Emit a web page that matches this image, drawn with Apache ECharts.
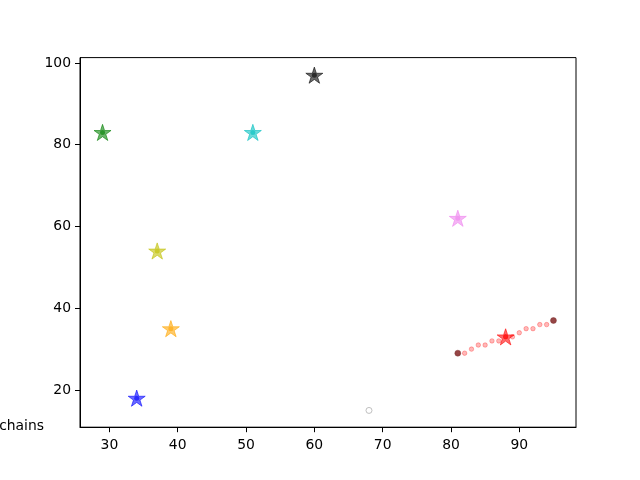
<!DOCTYPE html>
<html>
<head>
<meta charset="utf-8">
<script src="https://cdn.jsdelivr.net/npm/echarts@6/dist/echarts.min.js"></script>
<style>html,body{margin:0;padding:0;background:#fff}#c{width:640px;height:480px}</style>
</head>
<body>
<div id="c"></div>
<script>
// Star markers
var starX = [29, 51, 60, 37, 39, 34, 81, 88];
var starY = [83, 83, 97, 54, 35, 18, 62, 33];
var starColors = ['#008000', '#00bfbf', '#000000', '#bfbf00', '#ffa500', '#0000ff', '#ee82ee', '#ff0000'];
// Chain of small points
var chainX = [81, 82, 83, 84, 85, 86, 87, 88, 89, 90, 91, 92, 93, 94, 95];
var chainY = [29, 29, 30, 31, 31, 32, 32, 33, 33, 34, 35, 35, 36, 36, 37];
// Chain endpoints
var endX = [81, 95];
var endY = [29, 37];
// Lone hollow point
var loneX = [68];
var loneY = [15];
// Ticks
var xTicks = [30, 40, 50, 60, 70, 80, 90];
var yTicks = [20, 40, 60, 80, 100];
var label = 'chains';

var STAR = 'path://M0,-1L0.2245,-0.309L0.951,-0.309L0.363,0.118L0.588,0.809L0,0.382L-0.588,0.809L-0.363,0.118L-0.951,-0.309L-0.2245,-0.309Z';
var FONT = 'DejaVu Sans';

function zip(xs, ys) { return xs.map(function (x, i) { return [x, ys[i]]; }); }

var series = [];
series.push({
  type: 'scatter', symbol: 'circle', symbolSize: 4.5,
  data: zip(chainX, chainY),
  itemStyle: { color: '#ff0000', borderColor: '#ff0000', borderWidth: 1, opacity: 0.28 },
  silent: true, z: 2
});
series.push({
  type: 'scatter', symbol: 'circle', symbolSize: 6,
  data: zip(endX, endY),
  itemStyle: { color: '#7a2a2a', borderColor: '#7a2a2a', borderWidth: 0.5, opacity: 0.8 },
  silent: true, z: 3
});
series.push({
  type: 'scatter', symbol: 'circle', symbolSize: 6,
  data: zip(loneX, loneY),
  itemStyle: { color: 'rgba(255,255,255,0)', borderColor: '#b0b0b0', borderWidth: 1 },
  silent: true, z: 3
});
starX.forEach(function (x, i) {
  series.push({
    type: 'scatter', symbol: STAR, symbolSize: 17, symbolKeepAspect: true,
    data: [[x, starY[i]]],
    itemStyle: { color: starColors[i], borderColor: starColors[i], borderWidth: 1, opacity: 0.58 },
    silent: true, z: 4
  });
  series.push({
    type: 'scatter', symbol: 'circle', symbolSize: 5,
    data: [[x, starY[i]]],
    itemStyle: { color: starColors[i], opacity: 0.6 },
    silent: true, z: 5
  });
});

var chart = echarts.init(document.getElementById('c'), null, { renderer: 'canvas' });
chart.setOption({
  animation: false,
  backgroundColor: '#fff',
  grid: { left: 80, right: 64, top: 57.6, bottom: 52.8, show: true, borderColor: '#000', borderWidth: 1, backgroundColor: 'transparent' },
  xAxis: {
    type: 'value', min: 25.7, max: 98.3,
    splitLine: { show: false },
    axisLine: { show: true, onZero: false, lineStyle: { color: '#000', width: 1 } },
    axisTick: { show: true, inside: false, length: 5, customValues: xTicks, lineStyle: { color: '#000', width: 1 } },
    axisLabel: { customValues: xTicks, color: '#000', fontFamily: FONT, fontSize: 13.9, margin: 11 }
  },
  yAxis: {
    type: 'value', min: 10.9, max: 101.3,
    splitLine: { show: false },
    axisLine: { show: true, onZero: false, lineStyle: { color: '#000', width: 1 } },
    axisTick: { show: true, inside: false, length: 5, customValues: yTicks, lineStyle: { color: '#000', width: 1 } },
    axisLabel: { customValues: yTicks, color: '#000', fontFamily: FONT, fontSize: 13.9, margin: 9 }
  },
  graphic: [{
    type: 'text', x: 44, y: 426,
    style: { text: label, fill: '#000', font: '13.9px "DejaVu Sans"', align: 'right', verticalAlign: 'middle' }
  }],
  series: series
});
</script>
</body>
</html>
